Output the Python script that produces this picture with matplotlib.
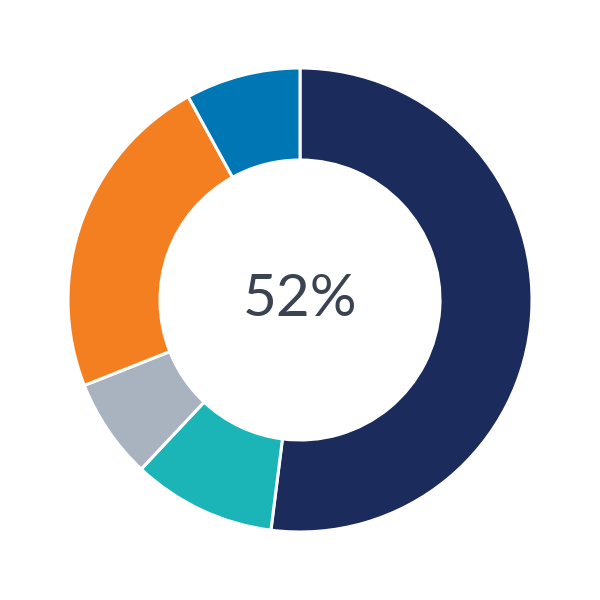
import matplotlib
matplotlib.use('Agg')
import matplotlib.pyplot as plt

labels = ['Navy', 'Teal', 'Gray', 'Orange', 'Blue']
values = [52, 10, 7, 23, 8]
colors = ['#1b2b5b', '#1bb5b8', '#a9b3c0', '#f47f20', '#0077b5']
center_text = '52%'

fig = plt.figure(figsize=(6, 6), dpi=100)
ax = fig.add_axes([0, 0, 1, 1])
ax.pie(values, colors=colors, startangle=90, counterclock=False,
       radius=232 / 300,
       wedgeprops=dict(width=92 / 300, edgecolor='white', linewidth=2.2))
ax.text(0, 0, center_text, ha='center', va='center', fontsize=42,
        family='Lato', color='#3b4250')
ax.set_xlim(-1, 1)
ax.set_ylim(-1, 1)
ax.set_aspect('equal')
ax.axis('off')
fig.savefig('out.png', dpi=100, facecolor='white')
